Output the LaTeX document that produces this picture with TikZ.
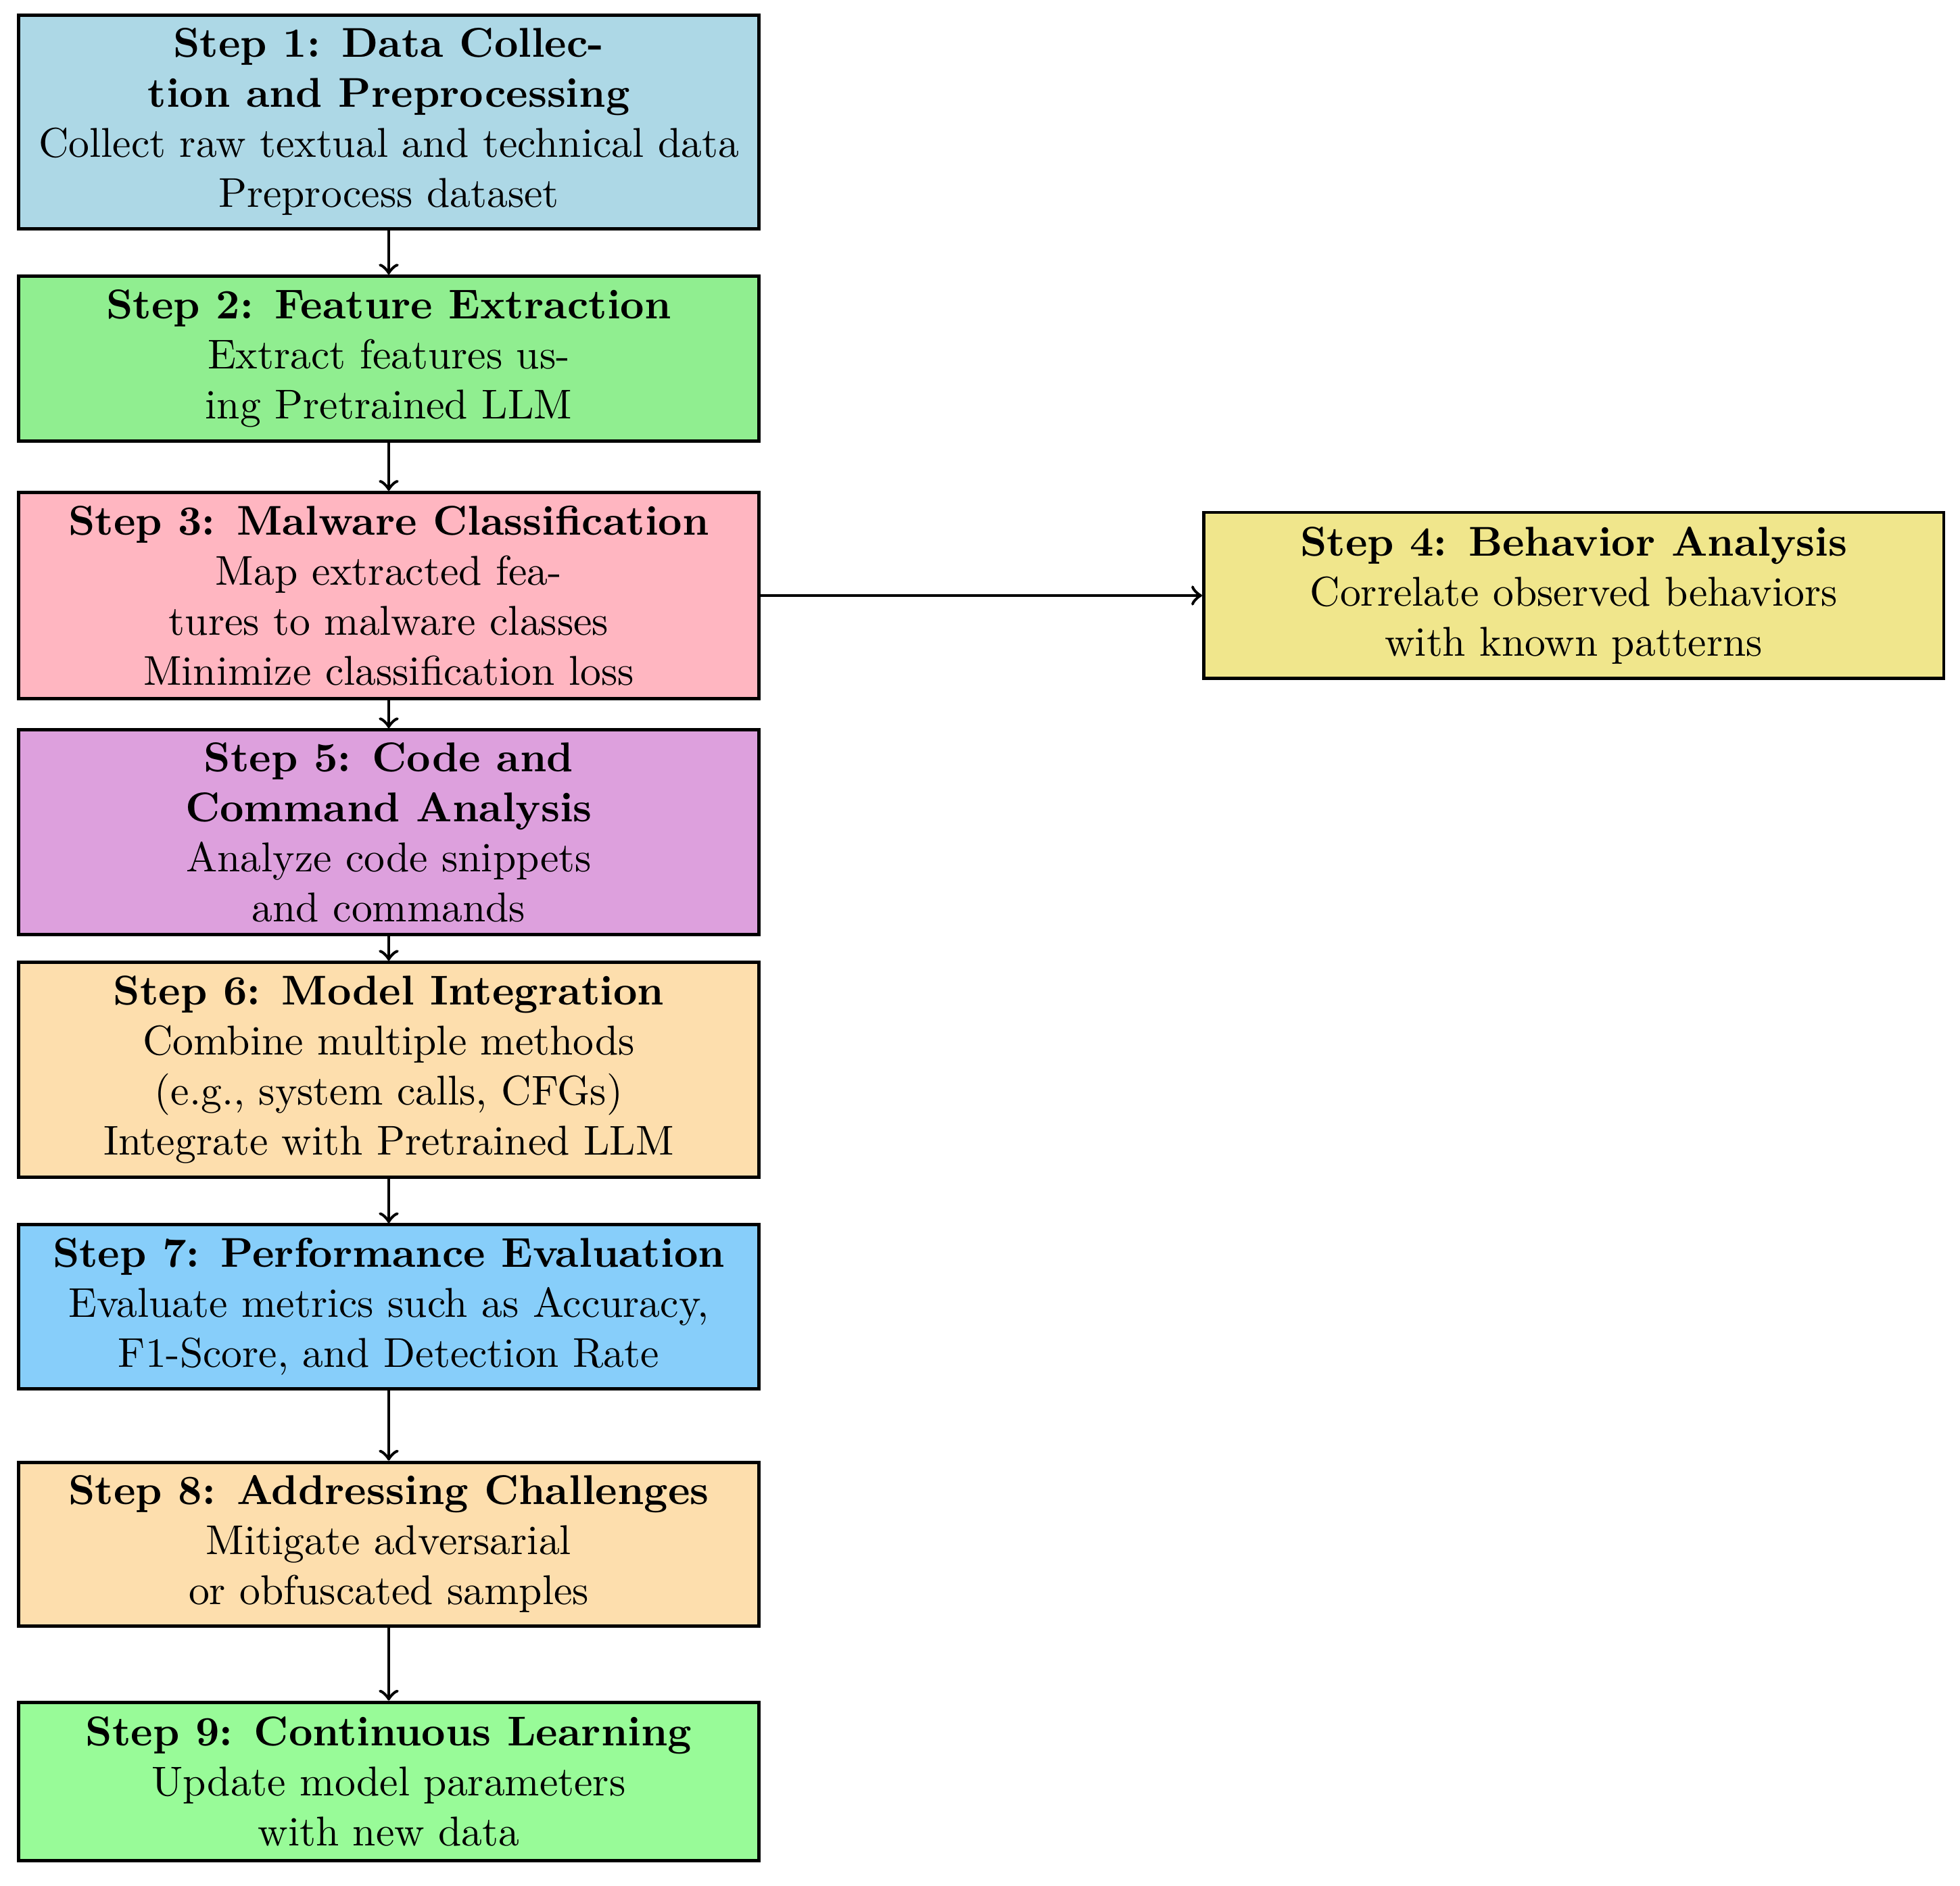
\documentclass[tikz,border=0pt]{standalone}
\definecolor{cA}{RGB}{173,216,230}
\definecolor{cB}{RGB}{144,238,144}
\definecolor{cC}{RGB}{255,182,193}
\definecolor{cD}{RGB}{240,230,140}
\definecolor{cE}{RGB}{221,160,221}
\definecolor{cF}{RGB}{253,222,173}
\definecolor{cG}{RGB}{135,206,250}
\definecolor{cH}{RGB}{152,251,152}
\begin{document}
\begin{tikzpicture}[x=0.3pt,y=-0.3pt,
  stepbox/.style={draw,thick,align=center,inner sep=0pt,minimum width=177.6pt,font=\normalsize},
  arr/.style={->,thick}]
\useasboundingbox (0,0) rectangle (1568,1509);
\node[stepbox,fill=cA,minimum height=51.3pt] (s1) at (311,97.5) {\textbf{Step 1: Data Collec-}\\\textbf{tion and Preprocessing}\\Collect raw textual and technical data\\Preprocess dataset};
\node[stepbox,fill=cB,minimum height=39.6pt] (s2) at (311,287) {\textbf{Step 2: Feature Extraction}\\Extract features us-\\ing Pretrained LLM};
\node[stepbox,fill=cC,minimum height=49.5pt] (s3) at (311,476.5) {\textbf{Step 3: Malware Classification}\\Map extracted fea-\\tures to malware classes\\Minimize classification loss};
\node[stepbox,fill=cD,minimum height=39.9pt] (s4) at (1259,476.5) {\textbf{Step 4: Behavior Analysis}\\Correlate observed behaviors\\with known patterns};
\node[stepbox,fill=cE,minimum height=49.2pt] (s5) at (311,666) {\textbf{Step 5: Code and}\\\textbf{Command Analysis}\\Analyze code snippets\\and commands};
\node[stepbox,fill=cF,minimum height=51.6pt] (s6) at (311,856) {\textbf{Step 6: Model Integration}\\Combine multiple methods\\(e.g., system calls, CFGs)\\Integrate with Pretrained LLM};
\node[stepbox,fill=cG,minimum height=39.3pt] (s7) at (311,1045.5) {\textbf{Step 7: Performance Evaluation}\\Evaluate metrics such as Accuracy,\\F1-Score, and Detection Rate};
\node[stepbox,fill=cF,minimum height=39.3pt] (s8) at (311,1235.5) {\textbf{Step 8: Addressing Challenges}\\Mitigate adversarial\\or obfuscated samples};
\node[stepbox,fill=cH,minimum height=38.1pt] (s9) at (311,1425.5) {\textbf{Step 9: Continuous Learning}\\Update model parameters\\with new data};
\draw[arr] (s1) -- (s2);
\draw[arr] (s2) -- (s3);
\draw[arr] (s3) -- (s4);
\draw[arr] (s3) -- (s5);
\draw[arr] (s5) -- (s6);
\draw[arr] (s6) -- (s7);
\draw[arr] (s7) -- (s8);
\draw[arr] (s8) -- (s9);
\end{tikzpicture}
\end{document}
